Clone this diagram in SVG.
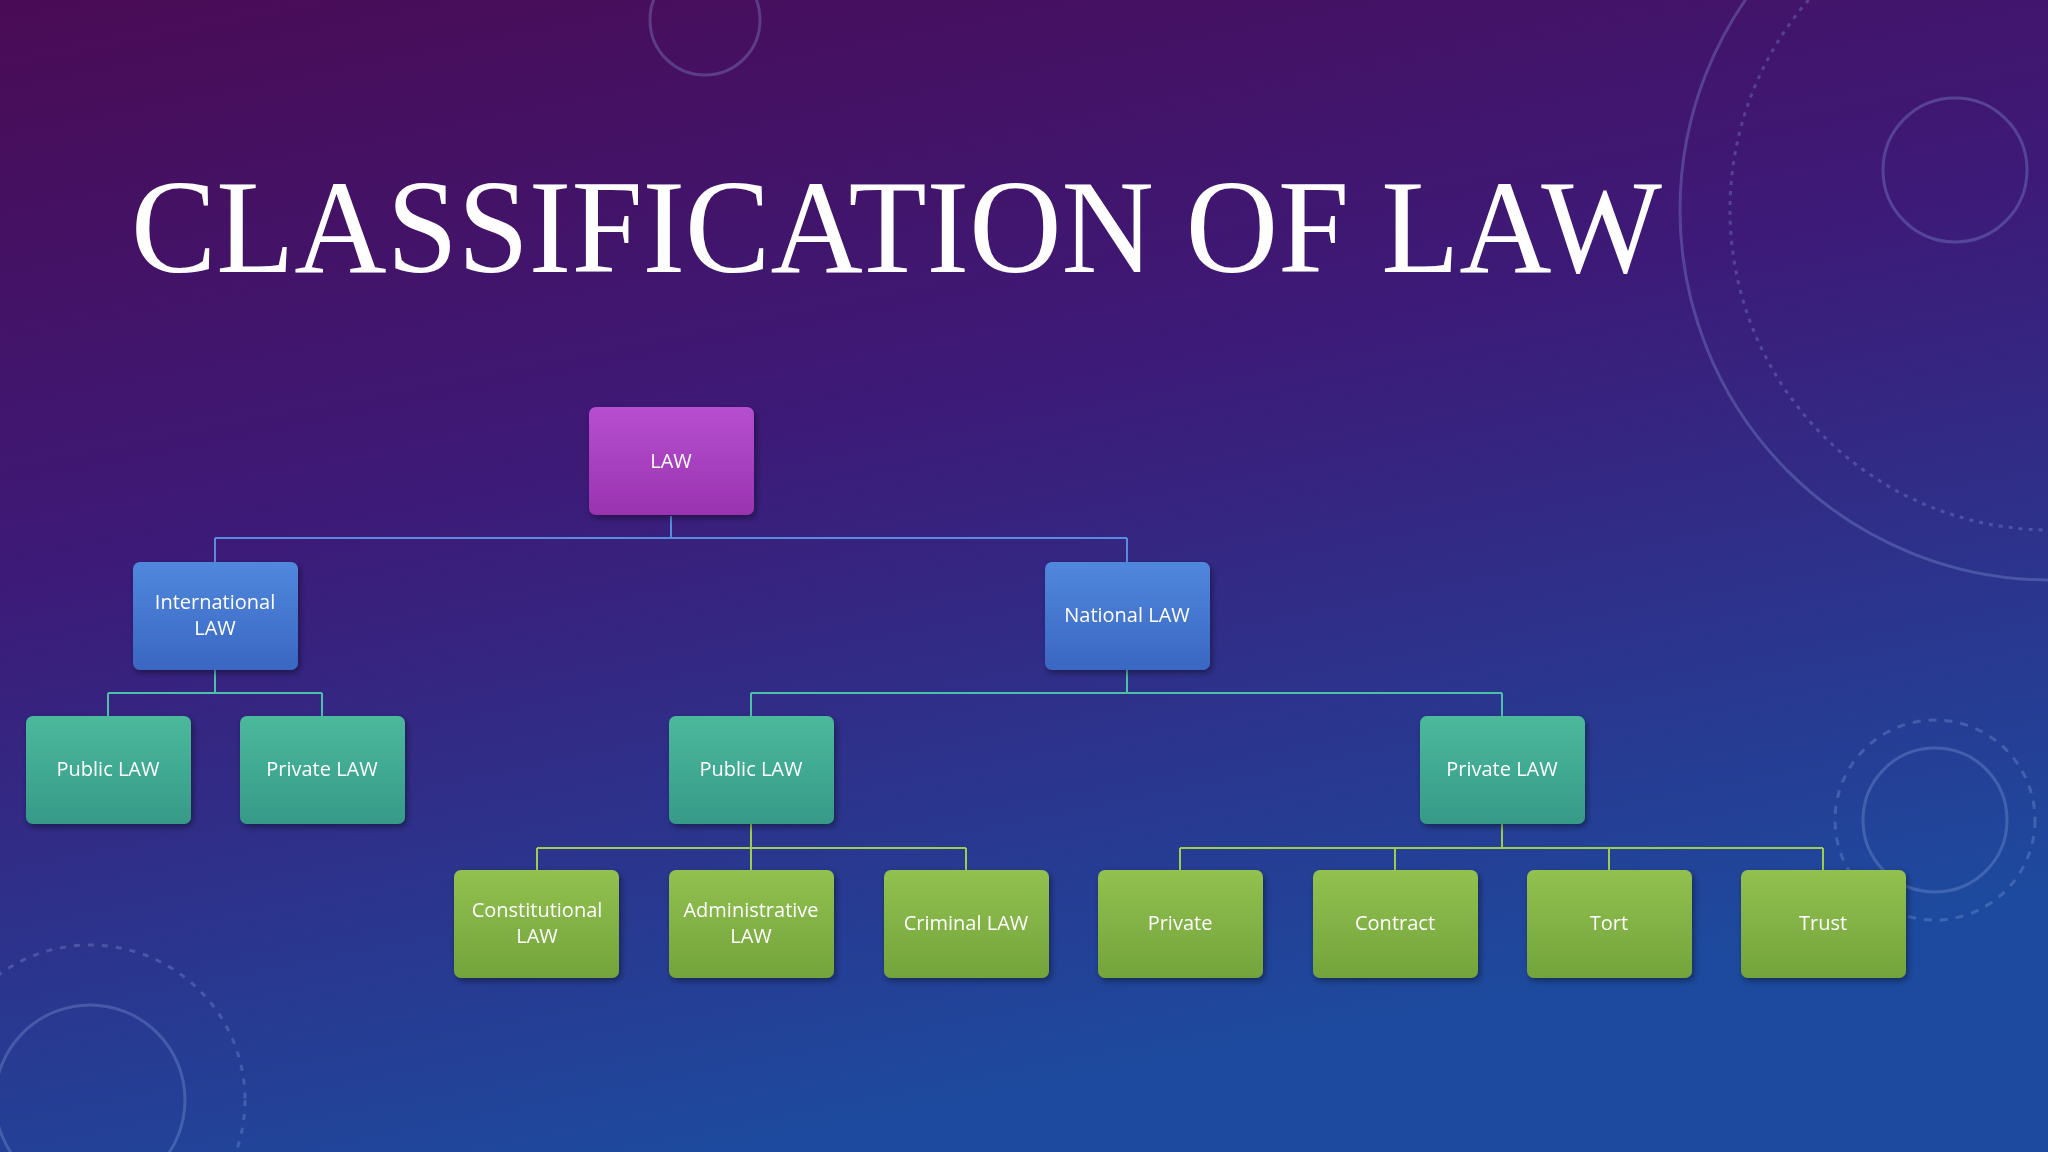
<svg xmlns="http://www.w3.org/2000/svg" width="2048" height="1152" viewBox="0 0 2048 1152">
<defs>
<linearGradient id="bg" x1="0" y1="0" x2="0.35" y2="1">
<stop offset="0" stop-color="#4a0b55"/><stop offset="0.45" stop-color="#3d1a78"/><stop offset="1" stop-color="#1d4a9e"/>
</linearGradient>
<linearGradient id="gm" x1="0" y1="0" x2="0" y2="1"><stop offset="0" stop-color="#b64fcf"/><stop offset="1" stop-color="#9a33b0"/></linearGradient>
<linearGradient id="gb" x1="0" y1="0" x2="0" y2="1"><stop offset="0" stop-color="#5088dd"/><stop offset="1" stop-color="#3a66c2"/></linearGradient>
<linearGradient id="gt" x1="0" y1="0" x2="0" y2="1"><stop offset="0" stop-color="#4cb99c"/><stop offset="1" stop-color="#369a88"/></linearGradient>
<linearGradient id="gg" x1="0" y1="0" x2="0" y2="1"><stop offset="0" stop-color="#92c150"/><stop offset="1" stop-color="#73a43b"/></linearGradient>
<filter id="sh" x="-10%" y="-10%" width="130%" height="130%"><feDropShadow dx="2" dy="3" stdDeviation="3" flood-color="#000" flood-opacity="0.4"/></filter>
</defs>
<style>
.n{filter:url(#sh)}
.t{font-family:"Open Sans","Liberation Sans",sans-serif;font-size:20px;fill:#fff;text-anchor:middle}
.deco{fill:none;stroke:#8fa6e0;stroke-opacity:0.3;stroke-width:3}
</style>
<rect width="2048" height="1152" fill="url(#bg)"/>
<g id="decor">
<circle class="deco" cx="2050" cy="210" r="370" stroke-width="2"/>
<circle class="deco" cx="2050" cy="210" r="320" stroke-dasharray="4 6"/>
<circle class="deco" cx="1955" cy="170" r="72"/>
<circle class="deco" cx="1935" cy="820" r="72"/>
<circle class="deco" cx="1935" cy="820" r="100" stroke-dasharray="8 8"/>
<circle class="deco" cx="705" cy="20" r="55"/>
<circle class="deco" cx="90" cy="1100" r="95"/>
<circle class="deco" cx="90" cy="1100" r="155" stroke-dasharray="6 8" stroke-width="2"/>
</g>
<text x="131" y="272" font-family="'Liberation Serif',serif" font-size="134" fill="#fff" textLength="1531" lengthAdjust="spacingAndGlyphs">CLASSIFICATION OF LAW</text>
<g id="connectors" fill="none" stroke-width="2">
<path d="M671 516V538M215 538H1127M215 538V562M1127 538V562" stroke="#5b8be0"/>
<path d="M215 670V693M108 693H322M108 693V716M322 693V716M1127 670V693M751 693H1502M751 693V716M1502 693V716" stroke="#4cc0a8"/>
<path d="M751 824V848M537 848H966M537 848V870M751 848V870M966 848V870M1502 824V848M1180 848H1823M1180 848V870M1395 848V870M1609 848V870M1823 848V870" stroke="#9ccc50"/>
</g>
<g id="law" class="n"><rect x="589" y="407" width="165" height="108" rx="7" fill="url(#gm)"/><text class="t" x="671" y="468">LAW</text></g>
<g id="intl" class="n"><rect x="133" y="562" width="165" height="108" rx="7" fill="url(#gb)"/><text class="t" x="215" y="609">International</text><text class="t" x="215" y="635">LAW</text></g>
<g id="national" class="n"><rect x="1045" y="562" width="165" height="108" rx="7" fill="url(#gb)"/><text class="t" x="1127" y="622">National LAW</text></g>
<g id="ipub" class="n"><rect x="26" y="716" width="165" height="108" rx="7" fill="url(#gt)"/><text class="t" x="108" y="776">Public LAW</text></g>
<g id="ipriv" class="n"><rect x="240" y="716" width="165" height="108" rx="7" fill="url(#gt)"/><text class="t" x="322" y="776">Private LAW</text></g>
<g id="npub" class="n"><rect x="669" y="716" width="165" height="108" rx="7" fill="url(#gt)"/><text class="t" x="751" y="776">Public LAW</text></g>
<g id="npriv" class="n"><rect x="1420" y="716" width="165" height="108" rx="7" fill="url(#gt)"/><text class="t" x="1502" y="776">Private LAW</text></g>
<g id="const" class="n"><rect x="454" y="870" width="165" height="108" rx="7" fill="url(#gg)"/><text class="t" x="537" y="917">Constitutional</text><text class="t" x="537" y="943">LAW</text></g>
<g id="admin" class="n"><rect x="669" y="870" width="165" height="108" rx="7" fill="url(#gg)"/><text class="t" x="751" y="917">Administrative</text><text class="t" x="751" y="943">LAW</text></g>
<g id="crim" class="n"><rect x="884" y="870" width="165" height="108" rx="7" fill="url(#gg)"/><text class="t" x="966" y="930">Criminal LAW</text></g>
<g id="private" class="n"><rect x="1098" y="870" width="165" height="108" rx="7" fill="url(#gg)"/><text class="t" x="1180" y="930">Private</text></g>
<g id="contract" class="n"><rect x="1313" y="870" width="165" height="108" rx="7" fill="url(#gg)"/><text class="t" x="1395" y="930">Contract</text></g>
<g id="tort" class="n"><rect x="1527" y="870" width="165" height="108" rx="7" fill="url(#gg)"/><text class="t" x="1609" y="930">Tort</text></g>
<g id="trust" class="n"><rect x="1741" y="870" width="165" height="108" rx="7" fill="url(#gg)"/><text class="t" x="1823" y="930">Trust</text></g>
</svg>
